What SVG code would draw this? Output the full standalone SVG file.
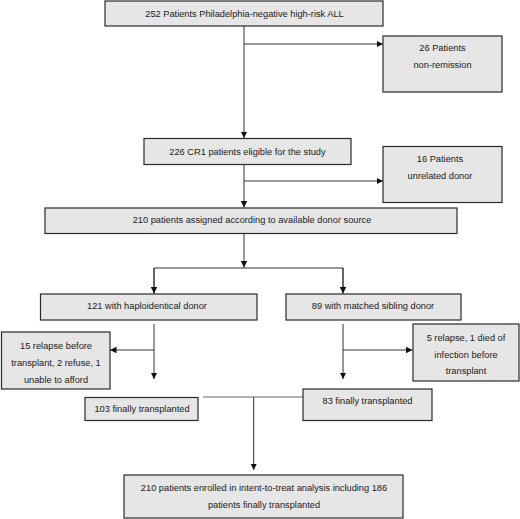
<svg xmlns="http://www.w3.org/2000/svg" width="520" height="519" viewBox="0 0 520 519">
<defs>
<style>
.box{fill:#e6e6e6;stroke:#2a2a2a;stroke-width:1.2}
.t{font-family:"Liberation Sans",Arial,sans-serif;font-size:9.25px;fill:#1a1a1a;text-anchor:middle}
.ln{stroke:#333;stroke-width:1;fill:none}
.gl{stroke:#666;stroke-width:1;fill:none}
</style>
<marker id="ah" viewBox="0 0 10 10" refX="10" refY="5" markerWidth="6.5" markerHeight="6.5" markerUnits="userSpaceOnUse" orient="auto">
<path d="M0,0 L10,5 L0,10 z" fill="#111"/>
</marker>
</defs>
<rect width="520" height="519" fill="#fff"/>
<g id="connectors">
<line class="ln" x1="244" y1="26" x2="244" y2="138" marker-end="url(#ah)"/>
<line class="ln" x1="244" y1="44" x2="383" y2="44" marker-end="url(#ah)"/>
<line class="ln" x1="244" y1="165" x2="244" y2="207.5" marker-end="url(#ah)"/>
<line class="ln" x1="244" y1="181" x2="383" y2="181" marker-end="url(#ah)"/>
<line class="ln" x1="244" y1="233.5" x2="244" y2="267.5" marker-end="url(#ah)"/>
<polyline class="ln" points="154,293.5 154,268 343,268 343,293.5"/>
<line class="ln" x1="154" y1="268" x2="154" y2="293.5" marker-end="url(#ah)"/>
<line class="ln" x1="343" y1="268" x2="343" y2="293.5" marker-end="url(#ah)"/>
<line class="ln" x1="154" y1="324" x2="154" y2="379" marker-end="url(#ah)"/>
<line class="ln" x1="154" y1="350" x2="110" y2="350" marker-end="url(#ah)"/>
<line class="ln" x1="343" y1="324" x2="343" y2="379" marker-end="url(#ah)"/>
<line class="ln" x1="343" y1="350" x2="412.5" y2="350" marker-end="url(#ah)"/>
<line class="gl" x1="203" y1="397" x2="303" y2="397"/>
<line class="ln" x1="253.7" y1="397" x2="253.7" y2="470" marker-end="url(#ah)"/>
</g>
<g id="n1"><rect class="box" x="105" y="1" width="278" height="25"/><text class="t" x="244.5" y="17">252 Patients Philadelphia-negative high-risk ALL</text></g>
<g id="n2"><rect class="box" x="383" y="36" width="119" height="56"/><text class="t" x="442.5" y="51">26 Patients</text><text class="t" x="442.5" y="68">non-remission</text></g>
<g id="n3"><rect class="box" x="144" y="138.5" width="207" height="26"/><text class="t" x="247.5" y="155">226 CR1 patients eligible for the study</text></g>
<g id="n4"><rect class="box" x="383" y="146.5" width="119" height="56"/><text class="t" x="440" y="162">16 Patients</text><text class="t" x="440" y="178.5">unrelated donor</text></g>
<g id="n5"><rect class="box" x="45" y="208" width="412" height="25.5"/><text class="t" x="252" y="223">210 patients assigned according to available donor source</text></g>
<g id="n6"><rect class="box" x="40.5" y="294" width="216.5" height="26"/><text class="t" x="147" y="308.5">121 with haploidentical donor</text></g>
<g id="n7"><rect class="box" x="286" y="294" width="175" height="26"/><text class="t" x="373" y="308.5">89 with matched sibling donor</text></g>
<g id="n8"><rect class="box" x="1.5" y="332" width="108.5" height="57"/><text class="t" x="56" y="349">15 relapse before</text><text class="t" x="56" y="366">transplant, 2 refuse, 1</text><text class="t" x="56" y="383">unable to afford</text></g>
<g id="n9"><rect class="box" x="413" y="324" width="106" height="57"/><text class="t" x="466" y="341">5 relapse, 1 died of</text><text class="t" x="466" y="358">infection before</text><text class="t" x="466" y="374">transplant</text></g>
<g id="n10"><rect class="box" x="85" y="397.5" width="113" height="23"/><text class="t" x="142" y="412">103 finally transplanted</text></g>
<g id="n11"><rect class="box" x="303" y="389" width="129" height="31.5"/><text class="t" x="367.5" y="404">83 finally transplanted</text></g>
<g id="n12"><rect class="box" x="124" y="475" width="279" height="43"/><text class="t" x="264" y="491">210 patients enrolled in intent-to-treat analysis including 186</text><text class="t" x="264" y="508">patients finally transplanted</text></g>
</svg>
